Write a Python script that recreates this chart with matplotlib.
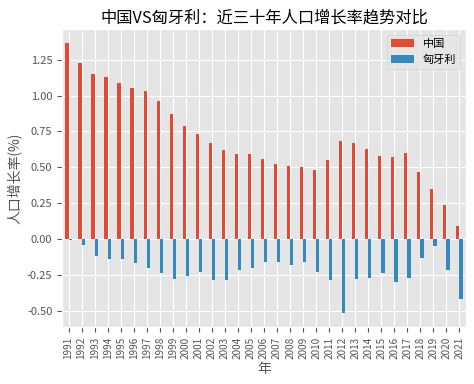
import matplotlib
matplotlib.use("Agg")
import matplotlib.pyplot as plt
import pandas as pd

years = [str(y) for y in range(1991, 2022)]
china = [1.37, 1.23, 1.15, 1.13, 1.09, 1.05, 1.03, 0.96, 0.87, 0.79,
         0.73, 0.67, 0.62, 0.59, 0.59, 0.56, 0.52, 0.51, 0.50, 0.48,
         0.55, 0.68, 0.67, 0.63, 0.58, 0.57, 0.60, 0.47, 0.35, 0.24, 0.09]
hungary = [-0.01, -0.04, -0.12, -0.14, -0.14, -0.17, -0.20, -0.24, -0.28, -0.26,
           -0.23, -0.29, -0.29, -0.22, -0.20, -0.16, -0.16, -0.18, -0.16, -0.23,
           -0.29, -0.52, -0.28, -0.27, -0.24, -0.30, -0.27, -0.13, -0.05, -0.22, -0.42]

plt.style.use('ggplot')
plt.rcParams['font.family'] = ['Noto Sans CJK SC', 'DejaVu Sans']
plt.rcParams['axes.unicode_minus'] = False

df = pd.DataFrame({'中国': china, '匈牙利': hungary}, index=years)
df.index.name = '年'

fig, ax = plt.subplots(figsize=(4.74, 3.84), dpi=100)
df.plot(kind='bar', ax=ax)
ax.set_title('中国VS匈牙利：近三十年人口增长率趋势对比', fontsize=11.7, pad=5)
ax.set_xlabel('年', fontsize=10, labelpad=2)
ax.set_ylabel('人口增长率(%)', fontsize=10, labelpad=3)
ax.tick_params(axis='x', labelsize=7.2)
ax.tick_params(axis='y', labelsize=8)
ax.legend(loc='upper right', fontsize=8)
fig.subplots_adjust(left=0.131, right=0.983, top=0.9245, bottom=0.1484)
fig.savefig('out.png', dpi=100)
